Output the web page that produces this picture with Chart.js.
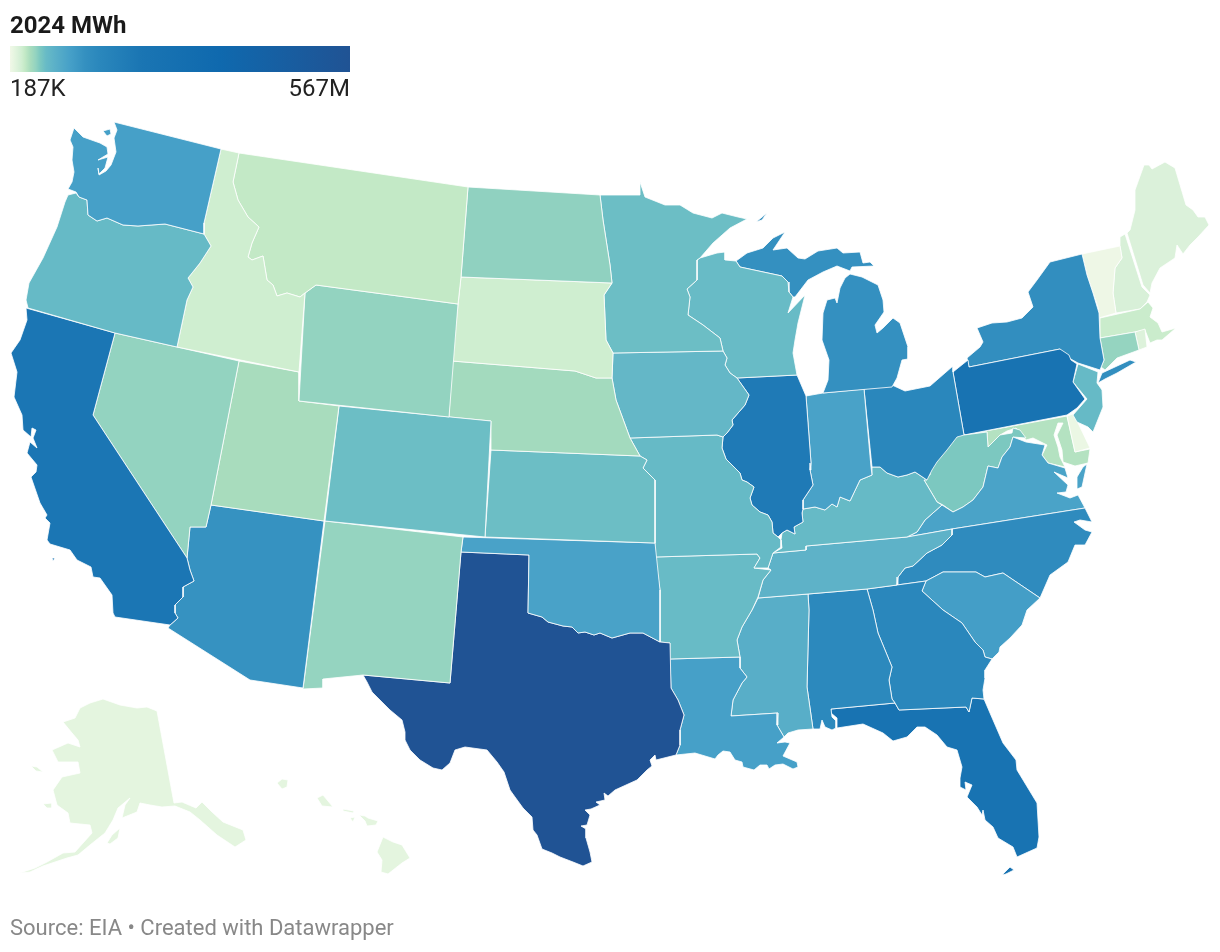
<!DOCTYPE html>
<html><head><meta charset="utf-8">
<script src="https://cdn.jsdelivr.net/npm/chart.js@4"></script>
<style>
html,body{margin:0;padding:0;background:#fff;width:1220px;height:952px;overflow:hidden;font-family:Roboto,sans-serif}
#wrap{position:relative;width:1220px;height:952px}
canvas{position:absolute;left:0;top:0}
.t{position:absolute;white-space:nowrap;line-height:1}
#title{left:10px;top:13px;font-size:24px;font-weight:700;color:#1a1a1a}
#bar{position:absolute;left:10px;top:46px;width:340px;height:26px}
#lo{left:10px;top:76px;font-size:24px;color:#222}
#hi{right:870px;top:76px;font-size:24px;color:#222}
#src{left:10px;top:917px;font-size:22px;color:#888}
</style></head><body>
<div id="wrap">
<canvas id="c" width="1220" height="952"></canvas>
<div class="t" id="title">2024 MWh</div>
<div id="bar"></div>
<div class="t" id="lo">187K</div>
<div class="t" id="hi">567M</div>
<div class="t" id="src">Source: EIA • Created with Datawrapper</div>
</div>
<script>
// Electricity generation, million MWh, estimated from the map's colours
const states=["AK","HI","WA","OR","CA","ID","MT","WY","NV","UT","AZ","CO","NM","ND","SD","NE","KS","OK","TX","MN","IA","MO","AR","LA","WI","IL","MI","IN","OH","KY","TN","MS","AL","GA","FL","SC","NC","VA","WV","PA","NY","NJ","CT","RI","MA","VT","NH","ME","DE","MD","DC"];
const mwh=[8,8,100,62,215,20,25,43,43,34,122,58,42,44,20,36,58,97,567,58,65,62,60,100,60,200,125,97,150,62,72,78,145,150,240,103,138,95,50,245,130,62,42,12,22,2,15,13,4,30,0.187];
// colour ramp: value (million MWh) -> colour
const rampValues=[0.187,8,15,20,25,34,43,50,60,75,100,125,150,220,350,567];
const rampColors=["#f1f8e8","#e4f5df","#d8f0d8","#cfeed0","#c3e9c6","#a8dcbd","#93d3c0","#7cc8c0","#68bbc6","#5bb0c8","#46a0c8","#3490c0","#2a87bc","#1a75b3","#0f69ae","#205394"];
// state outlines in map units; a state may have several rings
const outlines={
AK:[[[157,711],[147,707],[137,708],[120,705],[103,699],[90,703],[80,708],[75,718],[63,722],[72,733],[78,740],[80,747],[68,743],[52,750],[58,762],[78,762],[80,773],[62,777],[53,790],[57,805],[68,813],[70,823],[90,825],[92,833],[75,852],[63,853],[47,862],[35,868],[20,873],[30,872],[43,866],[67,858],[78,855],[90,845],[105,833],[113,820],[118,808],[130,798],[125,805],[122,818],[137,812],[140,803],[150,805],[162,807],[175,806],[190,812],[200,820],[217,835],[235,847],[246,840],[243,830],[223,822],[212,812],[202,802],[196,808],[182,802],[174,803]],[[107,843],[112,835],[120,828],[118,838],[110,844]],[[31,766],[37,767],[43,772],[36,771]],[[43,804],[52,803],[52,808],[47,808]]],
HI:[[[277,783],[282,779],[288,780],[287,787],[282,789]],[[317,798],[323,795],[333,807],[322,806]],[[343,809],[354,811],[353,813],[343,811]],[[350,818],[355,817],[353,822]],[[359,815],[365,816],[368,818],[378,821],[376,825],[367,826],[365,821]],[[383,837],[393,842],[402,845],[410,858],[402,863],[388,874],[381,872],[382,860],[377,852]]],
WA:[[[74,128],[83,137],[100,143],[107,147],[108,154],[98,160],[108,157],[105,168],[99,174],[98,168],[99,175],[106,171],[111,165],[116,152],[114,138],[117,130],[114,122],[221,149],[204,223],[204,234],[165,224],[138,226],[123,225],[107,218],[97,221],[88,215],[87,200],[79,197],[76,192],[68,189],[72,182],[74,172],[72,160],[73,147],[70,140]],[[103,131],[110,129],[111,134],[107,136]]],
OR:[[[68,195],[76,193],[79,197],[87,200],[88,215],[97,221],[107,218],[123,225],[138,226],[165,224],[204,234],[211,246],[200,263],[188,278],[193,287],[187,300],[177,347],[115,333],[28,308],[26,300],[29,283],[43,258],[57,227],[65,202]]],
CA:[[[26,308],[115,333],[93,415],[187,558],[190,570],[194,581],[183,587],[183,597],[175,605],[175,613],[178,618],[170,625],[115,617],[113,613],[112,595],[100,578],[93,577],[91,567],[77,560],[70,550],[50,544],[47,540],[50,523],[45,518],[47,515],[40,503],[31,477],[36,472],[37,465],[27,453],[30,442],[37,448],[33,438],[36,430],[32,428],[31,437],[23,430],[22,415],[14,397],[17,372],[11,353],[20,340],[27,320]],[[52,558],[55,558],[53,561]]],
ID:[[[221,149],[239,153],[233,182],[238,200],[248,217],[259,227],[252,243],[248,257],[252,260],[263,256],[267,280],[273,285],[277,296],[287,293],[300,297],[305,293],[299,372],[177,347],[187,300],[193,287],[188,278],[200,263],[211,246],[204,234],[204,223]]],
MT:[[[239,153],[468,187],[461,277],[458,304],[316,285],[305,293],[300,297],[287,293],[277,296],[273,285],[267,280],[263,256],[252,260],[248,257],[252,243],[259,227],[248,217],[238,200],[233,182]]],
WY:[[[316,285],[458,304],[449,417],[299,401],[305,293]]],
NV:[[[115,333],[239,361],[211,505],[206,527],[190,527],[187,558],[93,415]]],
UT:[[[239,361],[299,372],[299,401],[339,406],[324,521],[211,505]]],
AZ:[[[211,505],[324,521],[303,688],[250,680],[168,628],[170,625],[178,618],[175,613],[175,605],[183,597],[183,587],[194,581],[190,570],[187,558],[190,527],[206,527]]],
CO:[[[339,406],[491,421],[485,537],[325,521]]],
NM:[[[325,521],[463,537],[461,552],[450,683],[363,675],[323,679],[323,688],[303,689]]],
ND:[[[468,187],[600,195],[603,220],[610,265],[612,283],[461,277]]],
SD:[[[461,277],[612,283],[604,295],[606,340],[613,353],[612,378],[596,378],[575,371],[452,361]]],
NE:[[[452,361],[575,371],[596,378],[612,378],[616,400],[630,438],[640,456],[491,450],[491,421],[449,417]]],
KS:[[[491,450],[640,456],[647,460],[643,468],[655,480],[655,543],[485,537]]],
OK:[[[463,537],[655,543],[660,590],[660,642],[643,633],[630,633],[612,638],[600,633],[594,635],[585,632],[578,633],[572,627],[563,626],[548,622],[542,617],[535,615],[528,613],[529,555],[461,552]]],
TX:[[[461,552],[529,555],[528,613],[535,615],[542,617],[548,622],[563,626],[572,627],[578,633],[585,632],[594,635],[600,633],[612,638],[630,633],[643,633],[660,642],[670,643],[671,688],[678,700],[684,715],[680,730],[680,745],[676,755],[656,760],[655,755],[650,760],[652,766],[647,770],[637,780],[615,790],[608,796],[604,793],[605,800],[596,802],[600,805],[591,809],[585,810],[590,815],[587,825],[581,826],[586,829],[586,838],[590,852],[592,862],[583,866],[573,862],[560,857],[552,853],[542,849],[537,835],[533,830],[532,817],[523,808],[515,797],[510,790],[504,772],[497,762],[487,750],[465,747],[455,750],[450,763],[442,770],[433,768],[420,760],[410,750],[405,740],[405,732],[402,720],[390,710],[383,703],[372,692],[367,682],[363,675],[450,683]]],
MN:[[[600,195],[640,195],[640,182],[645,197],[665,205],[680,205],[693,213],[712,218],[722,213],[738,217],[747,219],[730,228],[713,243],[700,258],[697,260],[697,280],[687,289],[690,297],[688,315],[703,325],[720,338],[723,351],[613,353],[606,340],[604,295],[612,283],[610,265],[603,220]]],
IA:[[[613,353],[723,351],[727,358],[725,365],[730,373],[737,378],[749,395],[745,405],[732,420],[733,425],[727,433],[723,437],[717,435],[630,438],[616,400],[612,378]]],
MO:[[[630,438],[717,435],[723,437],[722,448],[726,459],[740,473],[742,480],[747,482],[754,487],[750,498],[752,505],[760,512],[768,515],[772,522],[773,533],[778,537],[781,540],[781,547],[773,553],[768,568],[754,568],[760,558],[757,554],[655,557],[655,480],[643,468],[647,460],[640,456]]],
AR:[[[655,557],[757,554],[760,558],[754,568],[771,570],[763,580],[758,597],[752,610],[742,627],[737,640],[740,657],[670,659],[670,643],[660,642],[660,590]]],
LA:[[[670,659],[740,657],[740,668],[747,677],[742,683],[733,700],[731,716],[778,713],[777,725],[784,737],[777,743],[785,742],[790,743],[783,756],[797,762],[798,767],[793,769],[783,764],[775,765],[769,769],[767,765],[760,765],[754,770],[743,767],[742,762],[735,760],[730,752],[723,751],[718,755],[715,759],[695,753],[676,755],[680,745],[680,730],[684,715],[678,700],[671,688]]],
WI:[[[700,258],[717,253],[725,252],[725,260],[736,261],[740,267],[782,276],[788,282],[789,292],[793,297],[788,313],[805,295],[798,323],[795,340],[793,353],[797,375],[737,378],[730,373],[725,365],[727,358],[723,351],[720,338],[703,325],[688,315],[690,297],[687,289],[697,280],[697,260]]],
IL:[[[737,378],[797,375],[806,396],[811,463],[810,470],[813,485],[803,500],[803,509],[802,513],[803,522],[794,527],[795,534],[787,530],[782,533],[778,537],[773,533],[772,522],[768,515],[760,512],[752,505],[750,498],[754,487],[747,482],[742,480],[740,473],[726,459],[722,448],[723,437],[727,433],[733,425],[732,420],[745,405],[749,395]]],
MI:[[[736,261],[747,253],[763,248],[773,238],[785,232],[773,250],[787,248],[798,258],[805,259],[818,251],[837,248],[843,253],[860,252],[863,263],[870,262],[874,266],[852,267],[850,271],[837,266],[823,272],[808,280],[795,297],[793,297],[789,292],[788,282],[782,276],[740,267]],[[850,274],[862,277],[878,285],[883,300],[884,312],[875,325],[877,333],[883,328],[893,318],[900,323],[908,347],[908,359],[902,360],[897,378],[892,387],[823,393],[828,380],[829,360],[822,340],[823,313],[827,300],[835,298],[837,303],[840,288],[845,278]],[[756,222],[767,213],[762,220]]],
IN:[[[806,396],[823,393],[864,389],[871,467],[872,475],[860,480],[850,501],[840,497],[837,507],[832,504],[825,510],[815,507],[803,509],[803,500],[813,485],[810,470],[811,463]]],
OH:[[[864,389],[892,385],[905,391],[930,386],[953,366],[953,372],[964,435],[957,437],[947,450],[937,462],[932,470],[927,480],[915,472],[907,475],[898,477],[887,473],[880,467],[872,467]]],
KY:[[[773,553],[782,548],[781,540],[782,533],[787,530],[795,534],[794,527],[803,522],[802,513],[803,509],[815,507],[825,510],[832,504],[837,507],[840,497],[850,501],[860,480],[872,475],[872,467],[880,467],[887,473],[898,477],[907,475],[915,472],[927,480],[924,480],[937,502],[942,505],[925,520],[917,532],[907,537],[806,546],[806,550]]],
TN:[[[773,553],[806,550],[806,546],[907,537],[952,529],[952,535],[942,545],[927,553],[913,566],[905,568],[898,577],[897,585],[867,589],[808,594],[758,598],[763,580],[771,570],[768,568]]],
MS:[[[758,598],[808,594],[809,610],[807,687],[813,729],[798,730],[788,733],[784,737],[777,725],[778,713],[731,716],[733,700],[742,683],[747,677],[740,668],[740,657],[737,640],[742,627],[752,610]]],
AL:[[[808,594],[867,589],[873,610],[878,633],[885,650],[892,667],[889,680],[892,699],[895,703],[831,709],[832,717],[836,721],[836,728],[832,730],[825,727],[822,720],[820,729],[813,729],[807,687],[809,610]]],
GA:[[[867,589],[897,585],[926,581],[922,591],[943,610],[962,623],[975,642],[983,650],[985,657],[992,659],[985,670],[985,678],[983,690],[984,699],[972,698],[969,712],[966,707],[899,710],[895,703],[892,699],[889,680],[892,667],[885,650],[878,633],[873,610]]],
FL:[[[831,709],[895,703],[899,710],[966,707],[969,712],[972,698],[984,699],[990,713],[1003,743],[1016,760],[1017,770],[1037,803],[1039,837],[1037,848],[1017,857],[1013,847],[998,838],[993,827],[985,820],[983,810],[982,815],[977,807],[967,797],[972,785],[965,782],[966,790],[960,787],[960,778],[962,767],[957,750],[947,747],[937,735],[925,727],[917,727],[907,737],[893,741],[883,733],[863,724],[837,728],[837,718],[831,713]],[[1002,875],[1010,867],[1014,870],[1006,874]]],
SC:[[[922,591],[926,581],[943,572],[976,572],[985,577],[1003,573],[1040,598],[1027,610],[1022,625],[1010,638],[1000,647],[999,652],[992,659],[985,657],[983,650],[975,642],[962,623],[943,610]]],
NC:[[[952,529],[1085,508],[1092,522],[1080,520],[1074,522],[1085,530],[1092,532],[1085,545],[1075,545],[1068,562],[1050,575],[1040,598],[1003,573],[985,577],[976,572],[943,572],[926,581],[897,585],[898,577],[905,568],[913,566],[927,553],[942,545],[952,535]]],
VA:[[[907,537],[917,532],[925,520],[942,505],[953,512],[963,507],[973,500],[983,487],[988,466],[998,468],[1002,457],[1010,447],[1013,437],[1026,442],[1045,445],[1042,455],[1048,463],[1065,468],[1068,478],[1054,472],[1068,485],[1066,492],[1057,493],[1070,498],[1078,495],[1085,508],[952,529]],[[1083,467],[1087,464],[1082,487],[1077,489],[1077,477]]],
WV:[[[957,410],[964,435],[987,432],[988,447],[1000,435],[1012,433],[1013,428],[1020,430],[1026,438],[1013,437],[1010,447],[1002,457],[998,468],[988,466],[983,487],[973,500],[963,507],[953,512],[943,505],[937,502],[924,480],[930,475],[932,463],[940,455],[955,438]]],
PA:[[[953,372],[968,360],[969,367],[1060,349],[1069,355],[1071,360],[1077,364],[1073,382],[1085,399],[1077,408],[1067,415],[964,435]]],
NY:[[[967,358],[980,347],[983,342],[977,328],[992,323],[1007,322],[1022,318],[1033,307],[1028,292],[1037,280],[1050,262],[1082,254],[1087,275],[1093,293],[1099,313],[1100,338],[1104,360],[1100,370],[1078,363],[1069,358],[1060,349],[969,367]],[[1098,383],[1102,373],[1130,360],[1136,362],[1117,373],[1105,379]]],
NJ:[[[1078,364],[1098,372],[1097,383],[1102,390],[1103,407],[1093,432],[1088,427],[1077,422],[1073,415],[1087,399],[1073,382]]],
CT:[[[1100,338],[1135,332],[1139,350],[1117,358],[1105,370],[1101,367],[1104,360]]],
RI:[[[1135,332],[1145,329],[1147,347],[1139,350]]],
MA:[[[1100,318],[1140,309],[1148,302],[1153,308],[1150,317],[1158,323],[1162,332],[1176,328],[1162,340],[1157,340],[1150,343],[1145,330],[1135,332],[1100,338]]],
VT:[[[1082,254],[1120,246],[1122,258],[1115,268],[1113,293],[1116,313],[1099,318],[1098,307],[1093,293],[1087,275]]],
NH:[[[1120,237],[1125,234],[1142,287],[1150,295],[1147,302],[1140,309],[1116,313],[1113,293],[1115,268],[1122,258],[1120,246]]],
ME:[[[1127,233],[1130,230],[1135,210],[1135,190],[1144,165],[1149,165],[1152,169],[1165,162],[1175,168],[1186,205],[1193,210],[1198,217],[1205,217],[1209,225],[1198,237],[1190,245],[1183,254],[1177,245],[1175,258],[1160,268],[1152,283],[1150,293],[1143,285]]],
DE:[[[1067,416],[1073,414],[1079,425],[1090,448],[1075,452]]],
MD:[[[964,435],[1067,416],[1075,452],[1090,449],[1088,463],[1075,466],[1063,462],[1062,450],[1057,435],[1063,423],[1058,423],[1054,435],[1058,447],[1060,457],[1065,467],[1048,463],[1042,455],[1047,445],[1033,438],[1026,440],[1016,428],[1007,431],[1000,435],[988,447],[987,432]]],
DC:[[[1042,443],[1045,443],[1045,446],[1042,446]]]
};
function hex(c){return [1,3,5].map(i=>parseInt(c.substr(i,2),16));}
function colorFor(v){
  let i=0;while(i<rampValues.length-2&&v>rampValues[i+1])i++;
  const t=Math.min(1,Math.max(0,(v-rampValues[i])/(rampValues[i+1]-rampValues[i])));
  const a=hex(rampColors[i]),b=hex(rampColors[i+1]);
  return 'rgb('+a.map((x,k)=>Math.round(x+(b[k]-x)*t)).join(',')+')';
}
const max=rampValues[rampValues.length-1];
document.getElementById('bar').style.background='linear-gradient(90deg,'+rampValues.map((v,i)=>rampColors[i]+' '+(v/max*100).toFixed(2)+'%').join(',')+')';
const datasets=[];
states.forEach((s,i)=>{
  outlines[s].forEach(ring=>{
    const closed=ring.concat([ring[0]]);
    datasets.push({label:s,data:closed.map(p=>({x:p[0],y:p[1]})),showLine:true,fill:'shape',tension:0,
      backgroundColor:colorFor(mwh[i]),borderColor:'#fff',borderWidth:0.8,pointRadius:0,pointHoverRadius:0,clip:false});
  });
});
new Chart(document.getElementById('c'),{type:'scatter',data:{datasets},options:{
  responsive:false,animation:false,events:[],layout:{padding:0},
  plugins:{legend:{display:false},tooltip:{enabled:false}},
  scales:{x:{type:'linear',min:0,max:1220,display:false},y:{type:'linear',min:0,max:952,reverse:true,display:false}}
}});
</script>
</body></html>
